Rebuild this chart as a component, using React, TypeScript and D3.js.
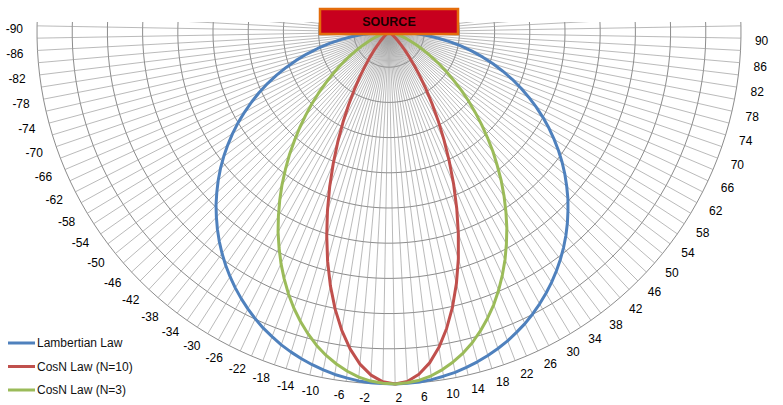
import * as d3 from 'd3';

// data angle (deg), every 2 degrees
const angles = [
  -90, -88, -86, -84, -82, -80, -78, -76, -74, -72, -70, -68, -66, -64, -62, -60, -58, -56, -54, -52, -50, -48, -46,
  -44, -42, -40, -38, -36, -34, -32, -30, -28, -26, -24, -22, -20, -18, -16, -14, -12, -10, -8, -6, -4, -2, 0, 2, 4,
  6, 8, 10, 12, 14, 16, 18, 20, 22, 24, 26, 28, 30, 32, 34, 36, 38, 40, 42, 44, 46, 48, 50, 52, 54, 56, 58, 60, 62,
  64, 66, 68, 70, 72, 74, 76, 78, 80, 82, 84, 86, 88, 90,
];

const lambertian = [
  0, 0.035, 0.07, 0.105, 0.139, 0.174, 0.208, 0.242, 0.276, 0.309, 0.342, 0.375, 0.407, 0.438, 0.469, 0.5, 0.53, 0.559,
  0.588, 0.616, 0.643, 0.669, 0.695, 0.719, 0.743, 0.766, 0.788, 0.809, 0.829, 0.848, 0.866, 0.883, 0.899, 0.914, 0.927,
  0.94, 0.951, 0.961, 0.97, 0.978, 0.985, 0.99, 0.995, 0.998, 0.999, 1, 0.999, 0.998, 0.995, 0.99, 0.985, 0.978, 0.97,
  0.961, 0.951, 0.94, 0.927, 0.914, 0.899, 0.883, 0.866, 0.848, 0.829, 0.809, 0.788, 0.766, 0.743, 0.719, 0.695, 0.669,
  0.643, 0.616, 0.588, 0.559, 0.53, 0.5, 0.469, 0.438, 0.407, 0.375, 0.342, 0.309, 0.276, 0.242, 0.208, 0.174, 0.139,
  0.105, 0.07, 0.035, 0,
];

const cosN10 = [
  0, 0, 0, 0, 0, 0, 0, 0, 0, 0, 0, 0, 0, 0, 0, 0.001, 0.002, 0.003, 0.005, 0.008, 0.012, 0.018, 0.026, 0.037, 0.051,
  0.07, 0.092, 0.12, 0.153, 0.192, 0.237, 0.288, 0.344, 0.405, 0.47, 0.537, 0.605, 0.674, 0.74, 0.802, 0.858, 0.907,
  0.947, 0.976, 0.994, 1, 0.994, 0.976, 0.947, 0.907, 0.858, 0.802, 0.74, 0.674, 0.605, 0.537, 0.47, 0.405, 0.344,
  0.288, 0.237, 0.192, 0.153, 0.12, 0.092, 0.07, 0.051, 0.037, 0.026, 0.018, 0.012, 0.008, 0.005, 0.003, 0.002, 0.001,
  0, 0, 0, 0, 0, 0, 0, 0, 0, 0, 0, 0, 0, 0, 0,
];

const cosN3 = [
  0, 0, 0, 0.001, 0.003, 0.005, 0.009, 0.014, 0.021, 0.03, 0.04, 0.053, 0.067, 0.084, 0.103, 0.125, 0.149, 0.175,
  0.203, 0.233, 0.266, 0.3, 0.335, 0.372, 0.41, 0.45, 0.489, 0.53, 0.57, 0.61, 0.65, 0.688, 0.726, 0.762, 0.797, 0.83,
  0.86, 0.888, 0.914, 0.936, 0.955, 0.971, 0.984, 0.993, 0.998, 1, 0.998, 0.993, 0.984, 0.971, 0.955, 0.936, 0.914,
  0.888, 0.86, 0.83, 0.797, 0.762, 0.726, 0.688, 0.65, 0.61, 0.57, 0.53, 0.489, 0.45, 0.41, 0.372, 0.335, 0.3, 0.266,
  0.233, 0.203, 0.175, 0.149, 0.125, 0.103, 0.084, 0.067, 0.053, 0.04, 0.03, 0.021, 0.014, 0.009, 0.005, 0.003, 0.001,
  0, 0, 0,
];

const tickLabels = [
  -90, -86, -82, -78, -74, -70, -66, -62, -58, -54, -50, -46, -42, -38, -34, -30, -26, -22, -18, -14, -10, -6, -2, 2,
  6, 10, 14, 18, 22, 26, 30, 34, 38, 42, 46, 50, 54, 58, 62, 66, 70, 74, 78, 82, 86, 90,
];

const ringValues = [0.1, 0.2, 0.3, 0.4, 0.5, 0.6, 0.7, 0.8, 0.9, 1.0];

const series = [
  { name: 'Lambertian Law', values: lambertian, color: '#4F81BD' },
  { name: 'CosN Law (N=10)', values: cosN10, color: '#C0504D' },
  { name: 'CosN Law (N=3)', values: cosN3, color: '#9BBB59' },
];

const width = 783;
const height = 405;
const cx = 389;
const cy = 32;
const R = 352;
const font = '"Liberation Sans", Arial, sans-serif';

export default function App() {
  const rad = Math.PI / 180;
  // data angle 0 sits one degree right of straight down (Excel category offset)
  const angle = d3
    .scaleLinear()
    .domain([-90, 90])
    .range([Math.PI - -89 * rad, Math.PI - 91 * rad]);
  const r = d3.scaleLinear().domain([0, 1]).range([0, R]);

  // spokes every 2 degrees all the way round
  const spokeAngles = d3.range(-180, 180, 2).map((d) => angle(d));

  const ring = d3
    .lineRadial<number>()
    .angle((a) => a)
    .radius(0)
    .curve(d3.curveLinearClosed);

  const line = d3
    .lineRadial<[number, number]>()
    .angle((d) => angle(d[0]))
    .radius((d) => r(d[1]));

  // category labels sit on the spoke one step before their value
  const labelPos = (l: number) => {
    const a = angle(l - 2);
    return {
      x: cx + 366 * Math.sin(a),
      y: 35 - 363 * Math.cos(a),
      anchor: l < 0 ? 'end' : 'start',
    };
  };

  return (
    <svg width={width} height={height} style={{ position: 'absolute', left: 0, top: 0 }} fontFamily={font}>
      <defs>
        <clipPath id="plot">
          <rect x={0} y={22} width={width} height={height - 22} />
        </clipPath>
      </defs>
      <rect width={width} height={height} fill="#fff" />
      <g clipPath="url(#plot)">
        <g transform={`translate(${cx},${cy})`}>
          {spokeAngles.map((a, i) => {
            const [x, y] = d3.pointRadial(a, R);
            return <line key={i} x1={0} y1={0} x2={x} y2={y} stroke="#a3a3a3" strokeWidth={0.75} />;
          })}
          {ringValues.map((v) => (
            <path
              key={v}
              d={ring.radius(r(v))(spokeAngles)!}
              fill="none"
              stroke="#8c8c8c"
              strokeWidth={1}
            />
          ))}
        </g>
      </g>
      <g fontSize={12} fill="#000">
        {tickLabels.map((l) => {
          const p = labelPos(l);
          return (
            <text key={l} x={p.x} y={p.y} textAnchor={p.anchor} dominantBaseline="central">
              {l}
            </text>
          );
        })}
      </g>
      <g transform={`translate(${cx},${cy})`}>
        {series.map((s) => (
          <path
            key={s.name}
            d={line(angles.map((a, i) => [a, s.values[i]] as [number, number]))!}
            fill="none"
            stroke={s.color}
            strokeWidth={3}
            strokeLinejoin="round"
          />
        ))}
      </g>
      <g>
        <rect x={320} y={9} width={138} height={25} fill="#C8001E" stroke="#E46C0A" strokeWidth={2.5} />
        <text
          x={389}
          y={22}
          textAnchor="middle"
          dominantBaseline="central"
          fontSize={12.5}
          fontWeight="bold"
          fill="#1a0000"
        >
          SOURCE
        </text>
      </g>
      <g fontSize={12}>
        {series.map((s, i) => (
          <g key={s.name} transform={`translate(8,${343 + i * 23.5})`}>
            <line x1={0} x2={27} y1={0} y2={0} stroke={s.color} strokeWidth={3} />
            <text x={29} y={0} dominantBaseline="central" fill="#111">
              {s.name}
            </text>
          </g>
        ))}
      </g>
    </svg>
  );
}
